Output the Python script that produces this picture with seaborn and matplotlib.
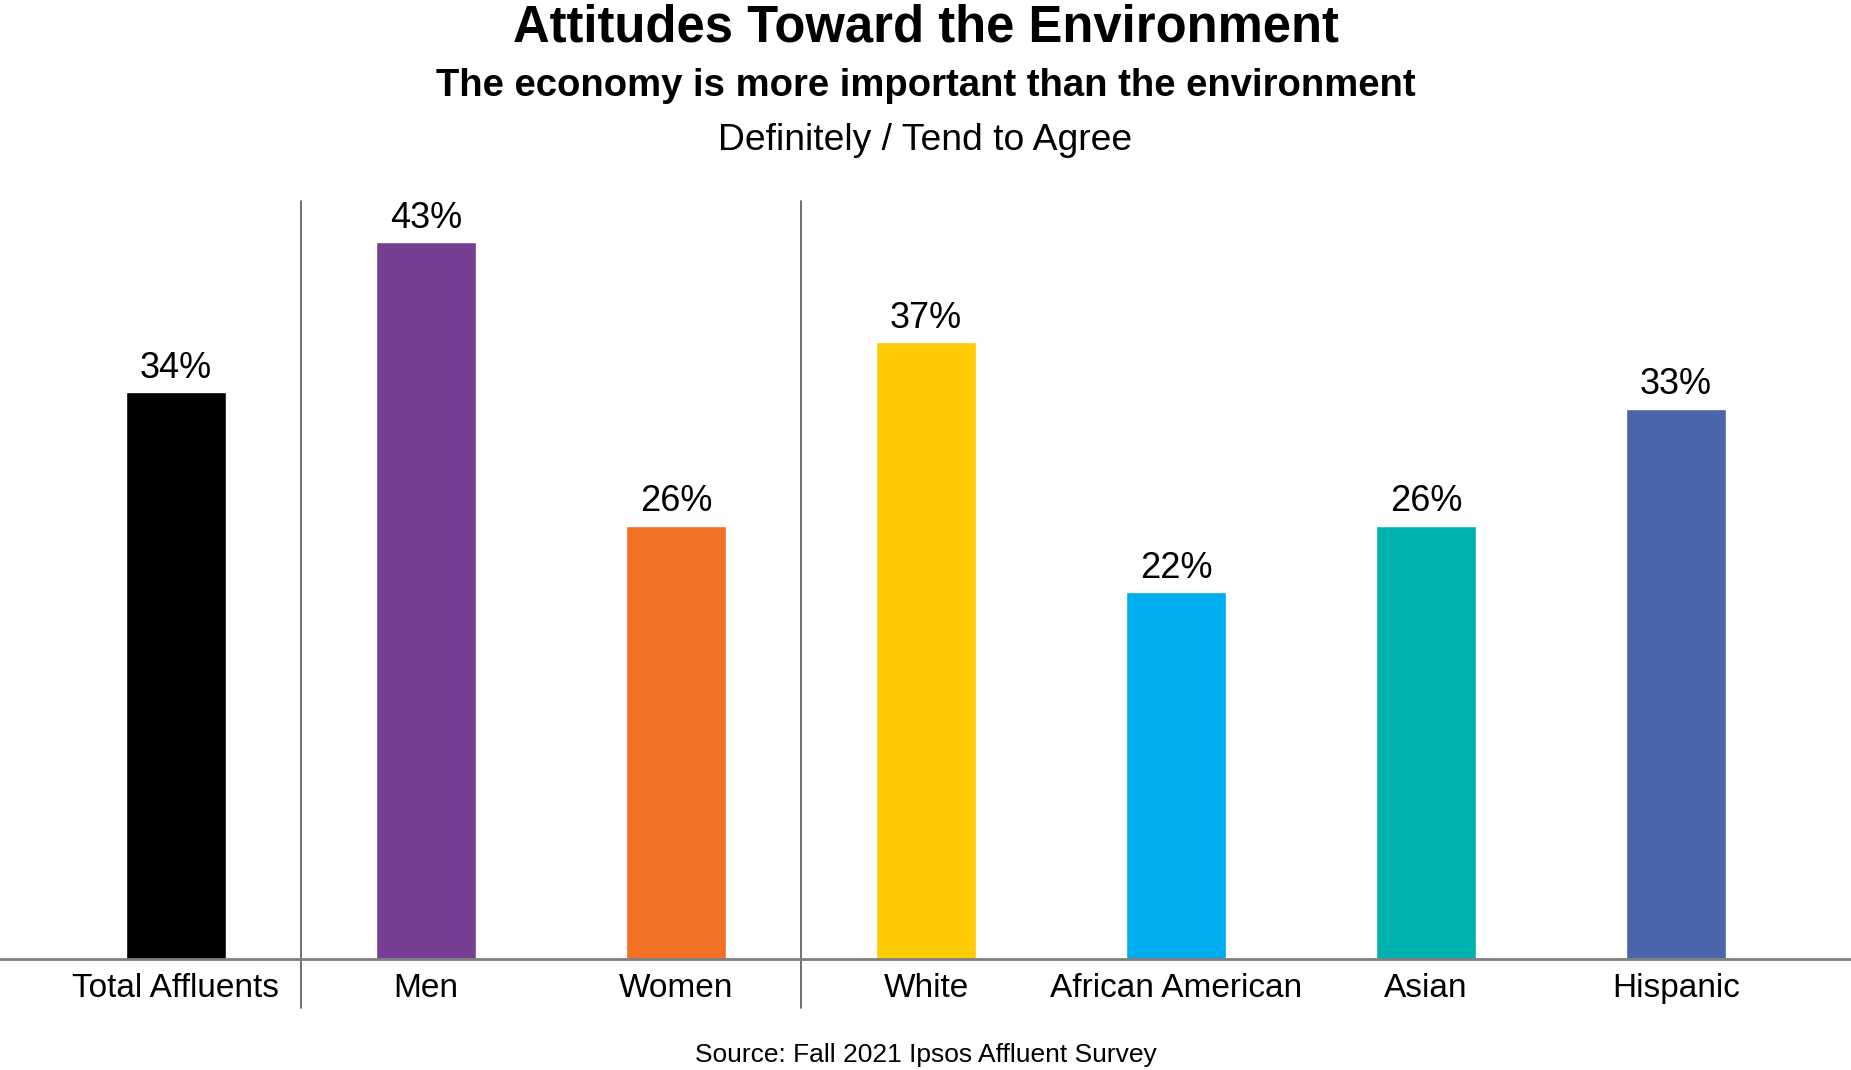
import matplotlib
matplotlib.use("Agg")
import matplotlib.pyplot as plt
import seaborn as sns
import pandas as pd

categories = ["Total Affluents", "Men", "Women", "White", "African American", "Asian", "Hispanic"]
values = [34, 43, 26, 37, 22, 26, 33]
colors = ["#000000", "#763F94", "#F37124", "#FFCB05", "#00AEEF", "#00B2AE", "#4B65AD"]
title = "Attitudes Toward the Environment"
subtitle = "The economy is more important than the environment"
subtitle2 = "Definitely / Tend to Agree"
source = "Source: Fall 2021 Ipsos Affluent Survey"
separators = [0.5, 2.5]

sns.set_theme(style="white")
plt.rcParams["font.family"] = ["Liberation Sans", "DejaVu Sans"]
plt.rcParams["text.color"] = "#000000"
plt.rcParams["xtick.color"] = "#000000"

df = pd.DataFrame({"cat": categories, "val": values})

fig = plt.figure(figsize=(18.51, 10.70), dpi=100)
ax = fig.add_axes([0.0, 0.1037, 1.0, 0.7009])

sns.barplot(data=df, x="cat", y="val", hue="cat", palette=colors, legend=False,
            width=0.4, saturation=1, ax=ax, order=categories)

ax.set_xlim(-0.704, 6.70)
ax.set_ylim(0, 45)
ax.set_xlabel("")
ax.set_ylabel("")
ax.set_yticks([])
for s in ["top", "right", "left"]:
    ax.spines[s].set_visible(False)
ax.spines["bottom"].set_color("#7f7f7f")
ax.spines["bottom"].set_linewidth(2)
ax.tick_params(axis="x", length=0, pad=10, labelsize=24, labelcolor="#000000")

for i, v in enumerate(values):
    ax.annotate(f"{v}%", xy=(i, v), xytext=(0, 10.5), textcoords="offset points",
                ha="center", va="baseline", fontsize=26, color="#000000")

for xs in separators:
    ax.plot([xs, xs], [-2.94, 45.47], color="#555555", lw=1.2, clip_on=False)

fig.text(0.5, 1 - 42 / 1070, title, ha="center", va="baseline", fontsize=36.5,
         fontweight="bold", color="#000000")
fig.text(0.5, 1 - 96 / 1070, subtitle, ha="center", va="baseline", fontsize=27.5,
         fontweight="bold", color="#000000")
fig.text(0.5, 1 - 150 / 1070, subtitle2, ha="center", va="baseline", fontsize=26.8,
         color="#000000")
fig.text(0.5, 1 - 1062 / 1070, source, ha="center", va="baseline", fontsize=19,
         color="#000000")

fig.savefig("out.png", dpi=100, facecolor="white")
